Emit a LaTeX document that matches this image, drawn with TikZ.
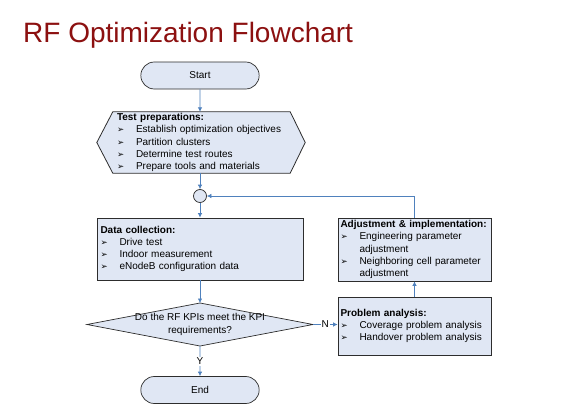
\documentclass[tikz,border=0pt]{standalone}
\usepackage{fontspec}
\setmainfont{Liberation Sans}
\newfontfamily\bulfont{DejaVu Sans}
\usepackage{tikz}
\usetikzlibrary{
    arrows.meta,
    positioning,
    shapes.geometric,
    shapes.misc,
    backgrounds
}
\definecolor{titlered}{RGB}{140,16,16}
\definecolor{boxfill}{RGB}{224,231,244}
\definecolor{flowline}{RGB}{79,129,189}
\definecolor{boxline}{RGB}{45,45,45}
\newcommand{\bul}{\makebox[19pt][l]{\bulfont\fontsize{8.5}{8}\selectfont ➢}}
\newcommand{\cont}{\hspace*{19pt}}
\hyphenpenalty=10000

\begin{document}
\begin{tikzpicture}[x=1pt, y=-1pt,
    txt/.style={font=\fontsize{10}{12.2}\selectfont},
    term/.style={txt, rounded rectangle, draw=boxline, line width=0.7pt, fill=boxfill,
        minimum width=125pt, minimum height=27pt},
    listbox/.style={txt, rectangle, draw=boxline, line width=0.8pt, fill=boxfill,
        align=left, inner xsep=3.5pt, inner ysep=0pt},
    flow/.style={draw=flowline, line width=0.7pt, -{Latex[length=4.5pt,width=4.5pt]}}
]
    % Background
    \useasboundingbox (0,0) rectangle (564,412);
    \begin{scope}[on background layer]
        \fill[white] (0,0) rectangle (564,412);
    \end{scope}

    % Title
    \node[font=\fontsize{28}{30}\selectfont, text=titlered, anchor=base west, inner sep=0pt]
        (title) at (23,42) {RF Optimization Flowchart};

    % Main column
    \node[term] (start) at (200,75.5) {Start};
    \node[txt, align=left, text width=169pt, minimum height=61pt, inner xsep=4pt, inner ysep=0pt]
        (prep) at (201.5,142.5)
        {\textbf{Test preparations:}\\
        \bul Establish optimization objectives\\
        \bul Partition clusters\\
        \bul Determine test routes\\
        \bul Prepare tools and materials};
    \begin{scope}[on background layer]
        \filldraw[fill=boxfill, draw=boxline, line width=0.8pt]
            (prep.north west) -- (prep.north east) -- ([xshift=15pt]prep.east)
            -- (prep.south east) -- (prep.south west) -- ([xshift=-16pt]prep.west) -- cycle;
    \end{scope}

    \node[circle, draw=boxline, line width=0.7pt, fill=boxfill, minimum size=13pt, inner sep=0pt]
        (join) at (200,196) {};

    \node[listbox, text width=199pt, minimum height=62pt] (collect) at (200,249)
        {\textbf{Data collection:}\\
        \bul Drive test\\
        \bul Indoor measurement\\
        \bul eNodeB configuration data};

    % Decision
    \node[txt, align=center, inner sep=0pt] (kpi) at (200,324.5)
        {Do the RF KPIs meet the KPI\\requirements?};
    \coordinate (kpiN) at (200,303);
    \coordinate (kpiS) at (200,346);
    \coordinate (kpiW) at (87,324.5);
    \coordinate (kpiE) at (313,324.5);
    \begin{scope}[on background layer]
        \filldraw[fill=boxfill, draw=boxline, line width=0.7pt]
            (kpiN) -- (kpiE) -- (kpiS) -- (kpiW) -- cycle;
    \end{scope}

    \node[term] (end) at (200,390) {End};

    % Right column
    \node[listbox, text width=148pt, inner xsep=2.5pt, minimum height=58pt] (problem) at (414.5,326)
        {\textbf{Problem analysis:}\\
        \bul Coverage problem analysis\\
        \bul Handover problem analysis};
    \node[listbox, text width=148pt, inner xsep=2.5pt, minimum height=63pt] (adjust) at (414.5,249.5)
        {\textbf{Adjustment \& implementation:}\\
        \bul Engineering parameter\\
        \cont adjustment\\
        \bul Neighboring cell parameter\\
        \cont adjustment};

    % Connectors
    \draw[flow] (start) -- (start |- prep.north);
    \draw[flow] (start |- prep.south) -- (join);
    \draw[flow] (join) -- (collect);
    \draw[flow] (collect) -- (kpiN);
    \draw[flow] (kpiS) -- node[txt, fill=white, inner sep=1pt] (yes) {Y} (end);
    \draw[flow] (kpiE) -- node[txt, fill=white, inner sep=1pt] (no) {N} (kpiE -| problem.west);
    \draw[flow] (problem) -- (adjust);
    \draw[flow] (adjust.north) |- (join);
\end{tikzpicture}
\end{document}
